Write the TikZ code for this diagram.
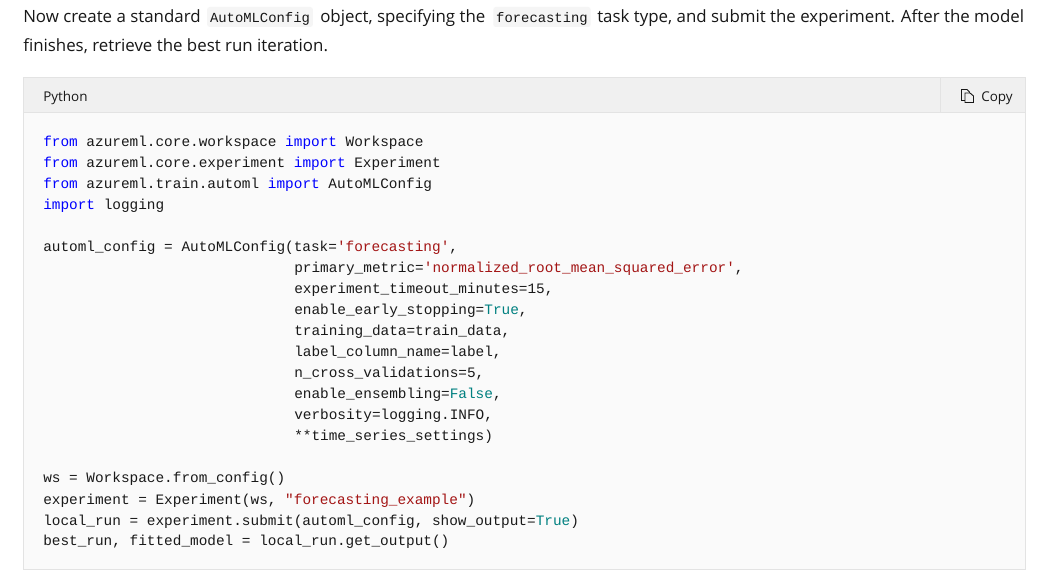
\documentclass[tikz,border=0pt]{standalone}
\usepackage{fontspec}
\setmainfont{Open Sans}
\setmonofont{Liberation Mono}
\definecolor{prosetext}{HTML}{171717}
\definecolor{chipfill}{HTML}{F5F5F5}
\definecolor{codefill}{HTML}{FAFAFA}
\definecolor{headfill}{HTML}{F0F0F0}
\definecolor{edgeline}{HTML}{E3E3E3}
\definecolor{kwblue}{HTML}{0000FF}
\definecolor{strred}{HTML}{A31515}
\definecolor{littreal}{HTML}{008080}
\newcommand{\kw}[1]{\textcolor{kwblue}{#1}}
\newcommand{\st}[1]{\textcolor{strred}{#1}}
\newcommand{\lt}[1]{\textcolor{littreal}{#1}}
\tikzset{
  prose/.style={anchor=base west,inner sep=0pt,text=prosetext,font=\fontsize{12.65pt}{16pt}\selectfont},
  chip/.style={anchor=base,inner xsep=2.2pt,inner ysep=0pt,fill=chipfill,rounded corners=2pt,text=prosetext,
    text height=12pt,text depth=3pt,font=\fontsize{10.4pt}{12pt}\ttfamily},
  codeline/.style={anchor=base west,inner sep=0pt,text=black!90,font=\fontsize{10.8pt}{13pt}\ttfamily},
  uilabel/.style={anchor=base west,inner sep=0pt,text=prosetext,font=\fontsize{10.1pt}{12pt}\selectfont},
}
\begin{document}
\begin{tikzpicture}[x=0.75pt,y=-0.75pt]
  \useasboundingbox (0,0) rectangle (1050,573);
  \fill[white] (0,0) rectangle (1050,573);
  % text above the box
  \node[prose] (lineA) at (23,23) {Now create a standard};
  \node[chip] (chipA) at (260,23) {AutoMLConfig};
  \node[prose] (lineB) at (320,23) {object, specifying the};
  \node[chip] (chipB) at (542,23) {forecasting};
  \node[prose] (lineC) at (597,23) {task type, and submit the experiment. After the model};
  \node[prose] (lineD) at (23,52) {finishes, retrieve the best run iteration.};
  % box
  \draw[edgeline,fill=codefill] (23.5,77.5) rectangle (1025.5,569.5);
  \draw[edgeline,fill=headfill] (23.5,77.5) rectangle (1025.5,112.5);
  \draw[edgeline] (940.5,77.5) -- (940.5,112.5);
  \node[uilabel] (langname) at (43,102) {Python};
  \node[uilabel] (copyname) at (981,102) {Copy};
  % copy icon
  \draw[prosetext,line width=0.7pt] (961.5,89.5) -- (967,89.5) -- (969.5,92) -- (969.5,100.5) -- (961.5,100.5) -- cycle;
  \draw[prosetext,line width=0.7pt,fill=headfill] (965,93) -- (970,93) -- (973.5,96) -- (973.5,102.5) -- (965,102.5) -- cycle;
  % code
  \node[codeline] (imp1) at (43,147) {\kw{from} azureml.core.workspace \kw{import} Workspace};
  \node[codeline] (imp2) at (43,168) {\kw{from} azureml.core.experiment \kw{import} Experiment};
  \node[codeline] (imp3) at (43,189) {\kw{from} azureml.train.automl \kw{import} AutoMLConfig};
  \node[codeline] (imp4) at (43,210) {\kw{import} logging};
  \node[codeline] (cfg1) at (43,252) {automl\_config = AutoMLConfig(task=\st{'forecasting'},};
  \node[codeline] (cfg2) at (294,273) {primary\_metric=\st{'normalized\_root\_mean\_squared\_error'},};
  \node[codeline] (cfg3) at (294,294) {experiment\_timeout\_minutes=15,};
  \node[codeline] (cfg4) at (294,315) {enable\_early\_stopping=\lt{True},};
  \node[codeline] (cfg5) at (294,336) {training\_data=train\_data,};
  \node[codeline] (cfg6) at (294,357) {label\_column\_name=label,};
  \node[codeline] (cfg7) at (294,378) {n\_cross\_validations=5,};
  \node[codeline] (cfg8) at (294,399) {enable\_ensembling=\lt{False},};
  \node[codeline] (cfg9) at (294,420) {verbosity=logging.INFO,};
  \node[codeline] (cfg10) at (294,441) {**time\_series\_settings)};
  \node[codeline] (run1) at (43,483) {ws = Workspace.from\_config()};
  \node[codeline] (run2) at (43,504) {experiment = Experiment(ws, \st{"forecasting\_example"})};
  \node[codeline] (run3) at (43,525) {local\_run = experiment.submit(automl\_config, show\_output=\lt{True})};
  \node[codeline] (run4) at (43,546) {best\_run, fitted\_model = local\_run.get\_output()};
\end{tikzpicture}
\end{document}
